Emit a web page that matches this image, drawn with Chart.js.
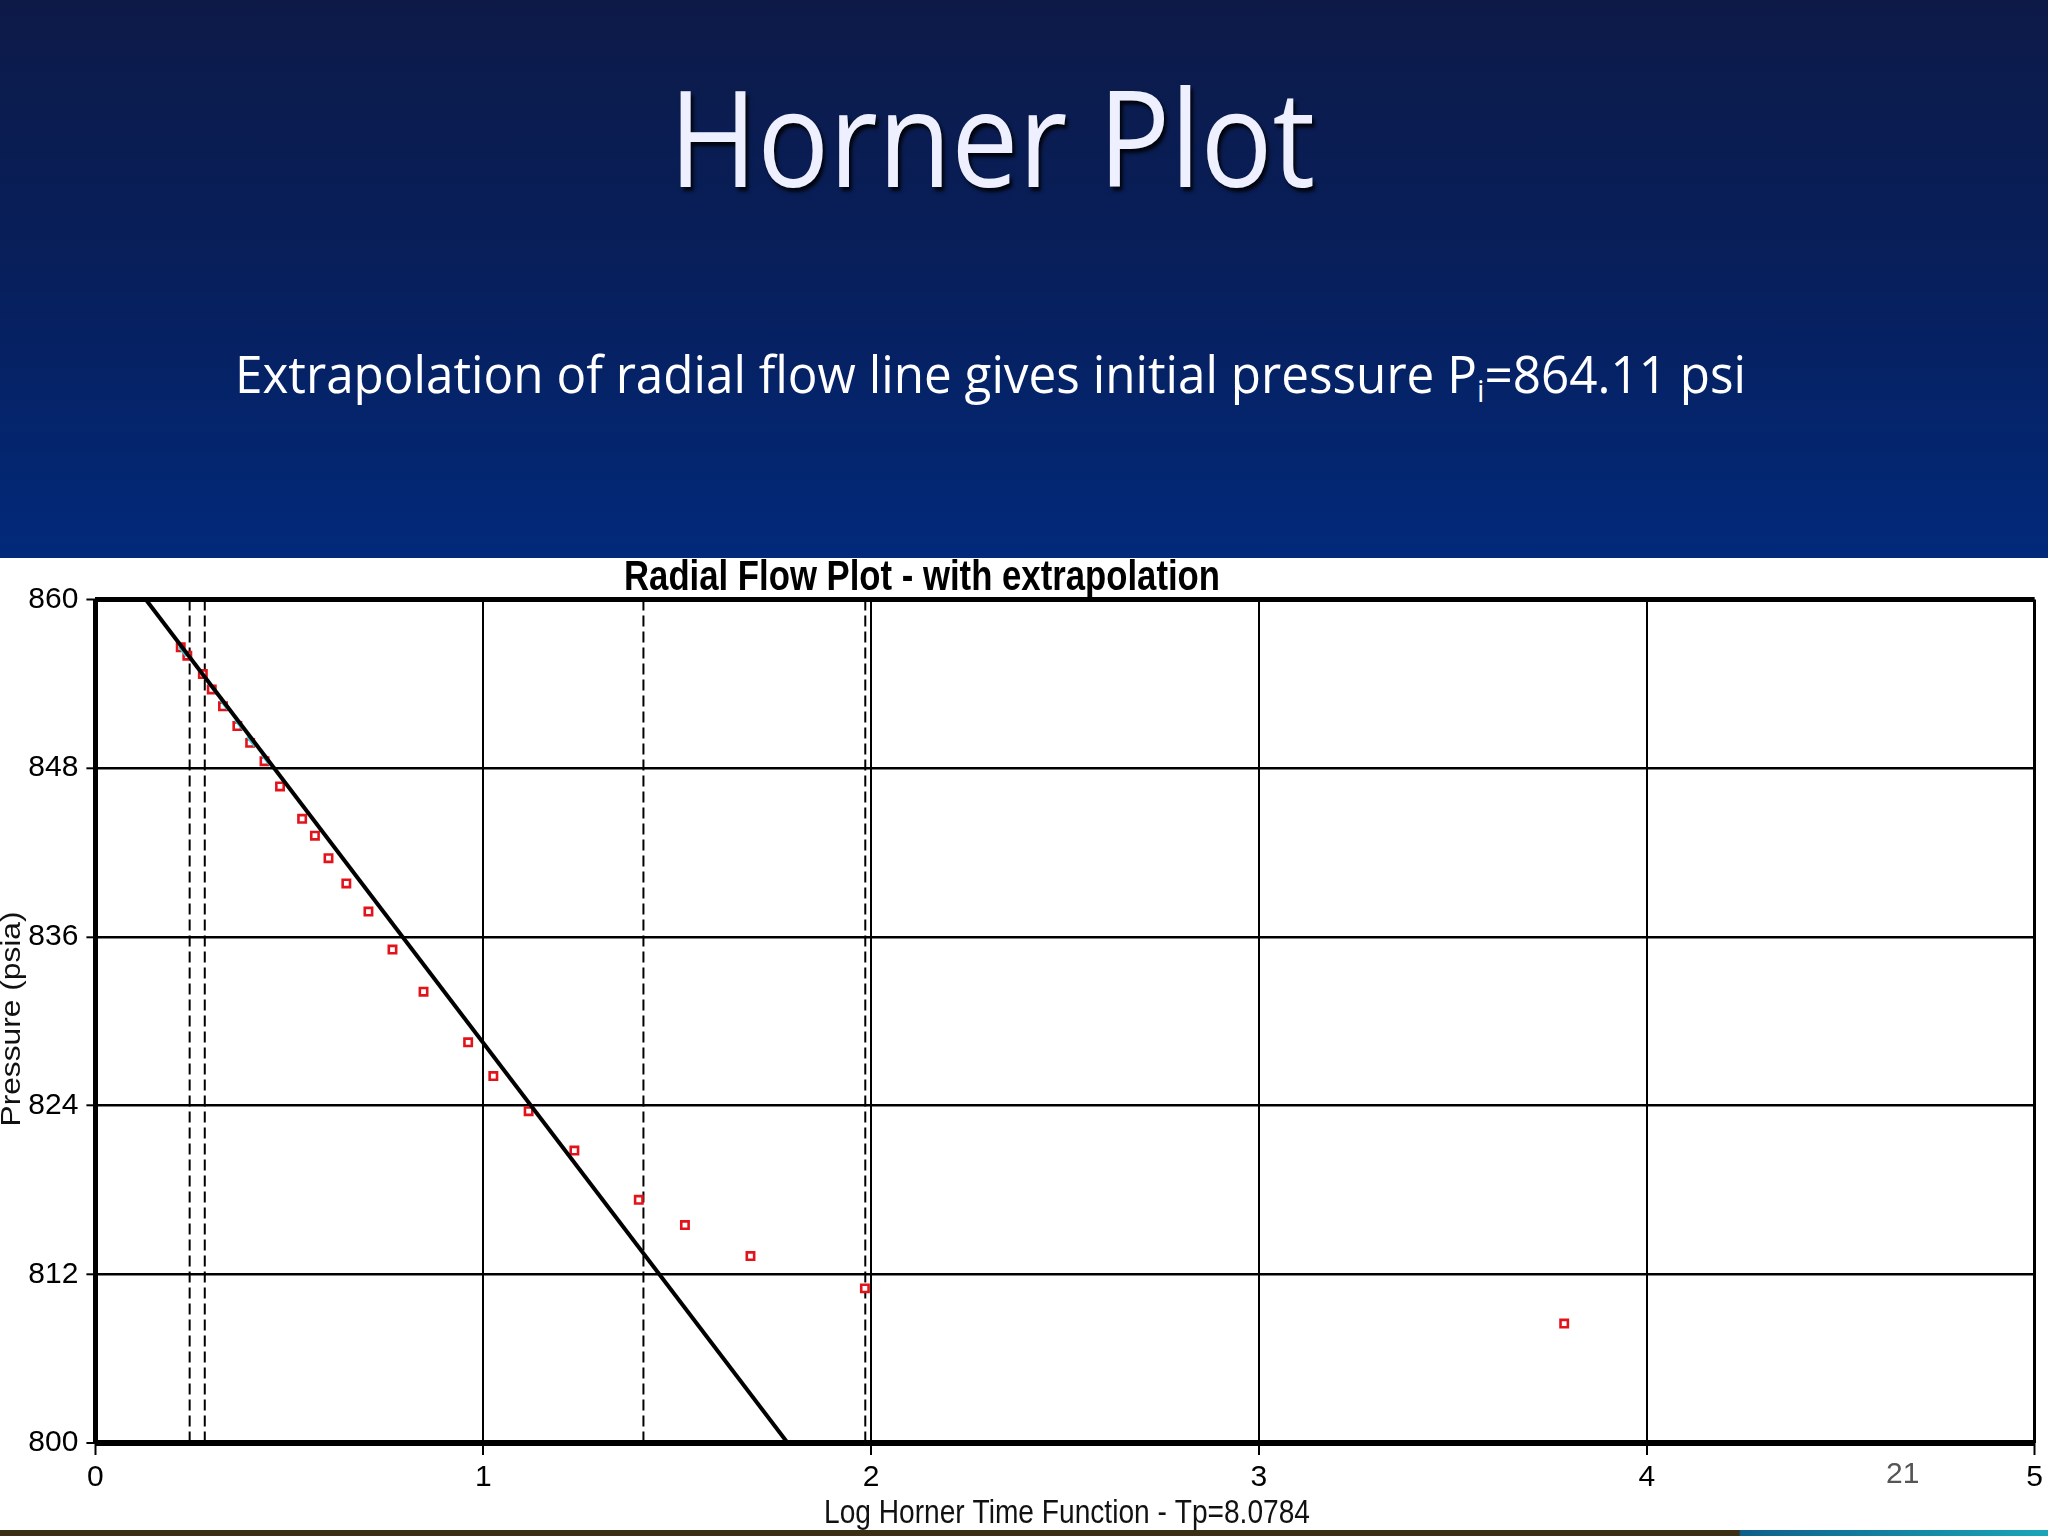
<!DOCTYPE html>
<html><head><meta charset="utf-8">
<script src="https://cdn.jsdelivr.net/npm/chart.js@4.4.1/dist/chart.umd.min.js"></script>
<style>
html,body{margin:0;padding:0;width:2048px;height:1536px;overflow:hidden;background:#fff;}
#header{position:absolute;left:0;top:0;width:2048px;height:558px;background:linear-gradient(to bottom,#0d1a48 0%,#071f5c 50%,#02297a 100%);}
.htxt{position:absolute;white-space:nowrap;font-family:'Open Sans',sans-serif;color:#fff;transform-origin:0 0;line-height:1;}
#title{font-size:133px;top:69px;left:669px;color:#eef0ff;text-shadow:3px 4px 4px rgba(0,0,0,0.85);}
#sub{font-size:51px;top:348px;left:235px;}
#sub sub{font-size:0.6em;vertical-align:-0.3em;line-height:0;}
#chartwrap{position:absolute;left:0;top:558px;width:2048px;height:972px;background:#fff;}
#strip{position:absolute;left:0;top:1530px;width:2048px;height:6px;background:linear-gradient(to right,#3b2e16 0%,#3b2e16 84.9%,#0e5f8a 85%,#1aa6b8 100%);}
</style></head>
<body>
<div id="header">
  <div id="title" class="htxt">Horner Plot</div>
  <div id="sub" class="htxt">Extrapolation of radial flow line gives initial pressure P<sub>i</sub>=864.11 psi</div>
</div>
<div id="chartwrap"><canvas id="c" width="2048" height="972" style="width:2048px;height:972px"></canvas></div>
<div id="strip"></div>
<script>
// ---- data ----
const xTickValues = [0, 1, 2, 3, 4, 5];
const yTickValues = [800, 812, 824, 836, 848, 860];
const pointX = [0.22, 0.237, 0.277, 0.30, 0.329, 0.366, 0.399, 0.436, 0.476, 0.533, 0.566, 0.601, 0.647, 0.704, 0.766, 0.846, 0.961, 1.026, 1.117, 1.235, 1.401, 1.52, 1.689, 1.984, 3.787];
const pointY = [856.6, 856.0, 854.7, 853.6, 852.4, 851.0, 849.8, 848.5, 846.7, 844.4, 843.2, 841.6, 839.8, 837.8, 835.1, 832.1, 828.5, 826.1, 823.6, 820.8, 817.3, 815.5, 813.3, 811.0, 808.5];
const selectedX = [0.225, 0.254, 0.275, 0.301, 0.332, 0.370, 0.401, 0.439];
const selectedY = [856.3, 855.5, 854.7, 853.7, 852.5, 851.1, 849.9, 848.6];
const fitLineX = [0.13, 1.785];
const fitLineY = [860, 800];
const markerX = [0.243, 0.282, 1.413, 1.985];
const chartTitle = 'Radial Flow Plot - with extrapolation';
const xTitle = 'Log Horner Time Function - Tp=8.0784';
const yTitle = 'Pressure (psia)';
const strayLabel = '21';
const strayLabelX = 4.66;

// ---- header text fitting ----
function fitWidth(id, target) {
  const el = document.getElementById(id);
  el.style.transform = '';
  const w = el.getBoundingClientRect().width;
  el.style.transform = 'scaleX(' + (target / w) + ')';
}
fitWidth('title', 646);
fitWidth('sub', 1511);
if (document.fonts && document.fonts.ready) document.fonts.ready.then(() => {
  fitWidth('title', 646); fitWidth('sub', 1511);
});

// ---- chart ----
const tickFont = { family: "'Liberation Sans',Arial,sans-serif", size: 30 };

function drawFitted(ctx, text, x, y, targetW, font, color, rot) {
  ctx.save();
  ctx.font = font; ctx.fillStyle = color;
  ctx.textAlign = 'center'; ctx.textBaseline = 'alphabetic';
  const w = ctx.measureText(text).width;
  ctx.translate(x, y);
  if (rot) ctx.rotate(rot);
  ctx.scale(targetW / w, 1);
  ctx.fillText(text, 0, 0);
  ctx.restore();
}

const textPlugin = {
  id: 'texts',
  afterDraw(chart) {
    const ctx = chart.ctx;
    drawFitted(ctx, chartTitle, 922, 32, 596, "bold 42px 'Liberation Sans',Arial,sans-serif", '#000');
    drawFitted(ctx, xTitle, 1067, 965, 486, "33px 'Liberation Sans',Arial,sans-serif", '#111');
    drawFitted(ctx, yTitle, 20, 461, 215, "27px 'Liberation Sans',Arial,sans-serif", '#111', -Math.PI / 2);
    const xs = chart.scales.x;
    ctx.save();
    ctx.font = "30px 'Liberation Sans',Arial,sans-serif";
    ctx.fillStyle = '#555';
    ctx.textAlign = 'center'; ctx.textBaseline = 'middle';
    ctx.fillText(strayLabel, xs.getPixelForValue(strayLabelX), 917);
    ctx.restore();
  }
};

const datasets = [];
datasets.push({
  label: 'fit', data: fitLineX.map((x, i) => ({ x, y: fitLineY[i] })),
  showLine: true, borderColor: '#000', borderWidth: 4, pointRadius: 0, order: 0
});
datasets.push({
  label: 'selected', data: selectedX.map((x, i) => ({ x, y: selectedY[i] })),
  showLine: false, pointStyle: 'line', rotation: 52, pointRadius: 6, borderColor: '#35d3e0', borderWidth: 2.5, order: 1
});
datasets.push({
  label: 'pressure', data: pointX.map((x, i) => ({ x, y: pointY[i] })),
  showLine: false, pointStyle: 'rect', pointRadius: 5.2, borderColor: '#e3131b', backgroundColor: '#fff', borderWidth: 2.6, order: 2
});
markerX.forEach((mx, k) => {
  datasets.push({
    label: 'marker' + k, data: [{ x: mx, y: yTickValues[yTickValues.length - 1] }, { x: mx, y: yTickValues[0] }],
    showLine: true, borderColor: '#000', borderWidth: 2, borderDash: [11, 5], pointRadius: 0, order: 3
  });
});

new Chart(document.getElementById('c'), {
  type: 'scatter',
  data: { datasets },
  options: {
    responsive: false, animation: false, devicePixelRatio: 1,
    layout: { padding: { top: 41.5, right: 9, left: 0, bottom: 0 } },
    plugins: { legend: { display: false }, tooltip: { enabled: false }, title: { display: false } },
    scales: {
      x: {
        type: 'linear', min: xTickValues[0], max: xTickValues[xTickValues.length - 1],
        afterBuildTicks: s => { s.ticks = xTickValues.map(v => ({ value: v })); },
        afterFit: s => { s.height = 87; },
        border: { display: false },
        grid: {
          color: '#000', tickLength: 12, tickColor: '#000', tickWidth: 2,
          lineWidth: c => c.tick && c.tick.value === 0 ? 5 : (c.tick && c.tick.value === 5 ? 3 : 2)
        },
        ticks: { color: '#000', font: tickFont, padding: 5, maxRotation: 0, autoSkip: false }
      },
      y: {
        type: 'linear', min: yTickValues[0], max: yTickValues[yTickValues.length - 1],
        afterBuildTicks: s => { s.ticks = yTickValues.map(v => ({ value: v })); },
        afterFit: s => { s.width = 95.4; },
        border: { display: false },
        grid: {
          color: '#000', tickLength: 9, tickColor: '#000', tickWidth: 2,
          lineWidth: c => c.tick && c.tick.value === 860 ? 5 : (c.tick && c.tick.value === 800 ? 6 : 2.6)
        },
        ticks: { color: '#000', font: tickFont, padding: 8 }
      }
    }
  },
  plugins: [textPlugin]
});
</script>
</body></html>
